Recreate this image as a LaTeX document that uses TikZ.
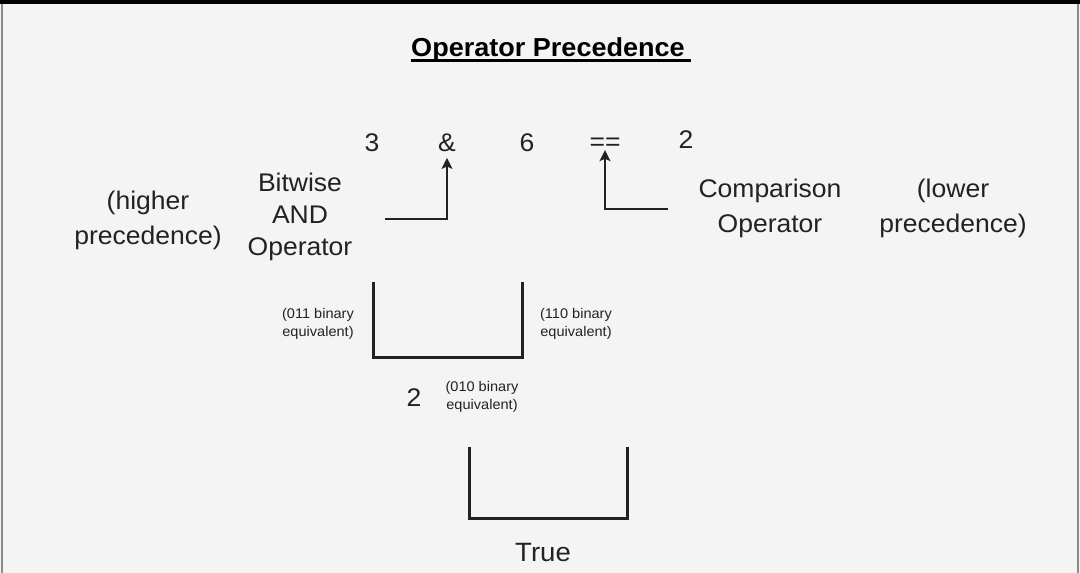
\documentclass[tikz,border=0pt]{standalone}
\usepackage{fontspec}
\setmainfont[FakeStretch=1.04]{Liberation Sans}
\usetikzlibrary{arrows.meta}
\definecolor{bg}{HTML}{F4F4F4}
\definecolor{ink}{HTML}{222222}
\definecolor{edge}{HTML}{8A8A8A}
\begin{document}
\begin{tikzpicture}[x=1pt,y=-1pt,
  lbl/.style={font=\fontsize{25.5}{34}\selectfont, text=ink, align=center, inner sep=0pt},
  dig/.style={font=\fontsize{25.5}{28}\selectfont, text=ink, inner sep=0pt, anchor=base},
  small/.style={font=\fontsize{14}{18}\selectfont, text=ink, align=center, inner sep=0pt},
  arr/.style={draw=ink, line width=1.6pt, -{Stealth[length=11pt,width=11pt,inset=2.5pt]}},
  brk/.style={draw=ink, line width=3pt}]
% frame
\useasboundingbox (0,0) rectangle (1080,573);
\fill[bg] (0,0) rectangle (1080,573);
\fill[black] (0,0) rectangle (1080,3.5);
\draw[edge, line width=1.5pt] (2,3.5) -- (2,573);
\draw[edge, line width=2pt] (1078,3.5) -- (1078,573);
% title
\node[font=\bfseries\fontsize{26}{30}\selectfont, text=black, inner sep=0pt, anchor=base] (title) at (548,56) {Operator Precedence};
\draw[black, line width=2.2pt] ([yshift=-4.5pt]title.base west) -- ([xshift=6pt,yshift=-4.5pt]title.base east);
% expression
\node[dig] (three) at (372,151) {3};
\node[dig, inner ysep=6.5pt] (amp) at (447,151) {\&};
\node[dig] (six) at (527,151) {6};
\node[dig] (eq) at (605,150) {==};
\node[dig] (two) at (686,148) {2};
% side labels
\node[lbl, font=\fontsize{25.5}{35}\selectfont] (higher) at (148,220) {(higher\\precedence)};
\node[lbl, font=\fontsize{25.5}{32}\selectfont] (bitand) at (300,217) {Bitwise\\AND\\Operator};
\node[lbl, font=\fontsize{25.5}{35}\selectfont] (cmp) at (770,208) {Comparison\\Operator};
\node[lbl, font=\fontsize{25.5}{35}\selectfont] (lower) at (953,208) {(lower\\precedence)};
% arrows
\coordinate (s1) at (385,219);
\coordinate (s2) at (668,209);
\draw[arr] (s1) -| (amp.south);
\draw[arr] (s2) -| (eq.south);
% first bracket
\coordinate (b1a) at (373,282);
\coordinate (b1b) at (522,282);
\draw[brk] (b1a) -- (373,357) -- (522,357) -- (b1b);
\node[small] (bin3) at (318,324) {(011 binary\\equivalent)};
\node[small] (bin6) at (576,324) {(110 binary\\equivalent)};
\node[dig, anchor=center] (res) at (414,398) {2};
\node[small] (bin2) at (482,397) {(010 binary\\equivalent)};
% second bracket
\coordinate (b2a) at (469,447);
\coordinate (b2b) at (627,447);
\draw[brk] (b2a) -- (469,518) -- (627,518) -- (b2b);
\node[lbl, font=\fontsize{26.5}{30}\selectfont] (true) at (543,553) {True};
\end{tikzpicture}
\end{document}
